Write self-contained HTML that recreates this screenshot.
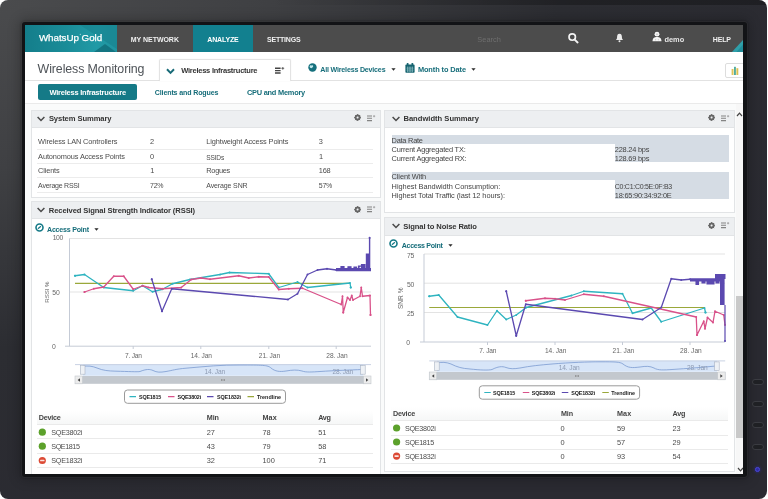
<!DOCTYPE html><html><head>
<meta charset="utf-8">
<title>Wireless Monitoring</title>
<style>
*{box-sizing:border-box;margin:0;padding:0}
html,body{width:768px;height:499px;overflow:hidden;background:#fff;font-family:"Liberation Sans",sans-serif}
#mon{position:absolute;left:0;top:0;width:767px;height:499px;border-radius:8px;
 background:radial-gradient(ellipse 900px 560px at 0% 0%,#4a4b4d 0%,#3f4043 30%,#2c2d32 62%,#2a2a31 100%);overflow:hidden;filter:blur(.4px)}
#bez{position:absolute;left:21.5px;top:21.5px;width:725.5px;height:455.5px;background:#121316;border-radius:3px;box-shadow:0 0 0 1px rgba(255,255,255,.06),0 0 2px 1px rgba(0,0,0,.35),0 0 12px 3px rgba(0,0,0,.22)}
#scr{position:absolute;left:25px;top:25px;width:718px;height:449px;background:#fff;overflow:hidden}
.abs{position:absolute}
.t{position:absolute;white-space:nowrap;line-height:1}
/* navbar */
#nav{position:absolute;left:0;top:0;width:718px;height:27px;background:#4c4c4c}
#logo{position:absolute;left:0;top:0;width:92px;height:27px;background:linear-gradient(90deg,#147e8b 0%,#1a8c98 45%,#219aa6 78%,#1f939f 100%)}
.nv{color:#fff;font-weight:bold;font-size:7.4px;top:10.5px;letter-spacing:.3px}
#an{position:absolute;left:168px;top:0;width:60px;height:27px;background:#12808f}
/* panels */
.pn{position:absolute;background:#fff;border:1px solid #e2e4e6}
.ph{position:absolute;left:0;top:0;right:0;height:17px;background:#edeff1;border-bottom:1px solid #e2e4e6}
.pt{font-weight:bold;font-size:8px;color:#333;top:4.5px}
.rw{font-size:7.6px;color:#4c4c4c}
.ln{position:absolute;height:1px;background:#ececec}
.teal{color:#166d7a;font-weight:bold;font-size:7.6px}
.hl{position:absolute;background:#d5dce4}
.bw{font-size:7.6px;color:#444}
.th{font-weight:bold;font-size:7.8px;color:#444}
.dot{position:absolute;width:8px;height:8px;border-radius:50%}
.lg{font-weight:bold;font-size:6.2px;color:#222}
.ax{font-size:6.8px;color:#666}
</style>
</head>
<body>
<div id="mon">
 <div class="abs" style="left:0;top:0;width:767px;height:5px;background:linear-gradient(90deg,rgba(0,0,0,0) 35%,rgba(0,0,0,.28) 75%)"></div>
 <div id="bez"></div>
 <!-- monitor buttons -->
 <div class="abs" style="left:752px;top:379px;width:12px;height:6px;border-radius:3px;background:#1f2024;border:1px solid #3a3b41"></div>
 <div class="abs" style="left:752px;top:401px;width:12px;height:6px;border-radius:3px;background:#1f2024;border:1px solid #3a3b41"></div>
 <div class="abs" style="left:752px;top:422px;width:12px;height:6px;border-radius:3px;background:#1f2024;border:1px solid #3a3b41"></div>
 <div class="abs" style="left:752px;top:444px;width:12px;height:6px;border-radius:3px;background:#1f2024;border:1px solid #3a3b41"></div>
 <div class="abs" style="left:754.8px;top:467.4px;width:4.8px;height:4.8px;border-radius:50%;background:#2e2ca4;border:1.3px solid #4a47d4;box-shadow:0 0 2.5px 0.5px rgba(50,46,170,.55)"></div>

 <div id="scr">
  <!-- NAVBAR -->
  <div id="nav">
   <div id="logo">
    <svg class="abs" style="left:0;top:0" width="92" height="27"><polygon points="55,0 92,0 92,24" fill="#15808c" opacity=".55"></polygon><polygon points="69,27 80,19 91,27" fill="#126f7b" opacity=".85"></polygon><circle cx="55.3" cy="9.2" r=".55" fill="#d9f0f2"></circle></svg>
    <div class="t" style="left: 13.9px; top: 8px; -webkit-text-stroke: 0.25px rgb(255, 255, 255); color: rgb(255, 255, 255); font-size: 9.8px; letter-spacing: -0.035px; width: auto; text-align: left;">WhatsUp Gold</div>
   </div>
   <div class="t nv" style="left: 105.8px; font-size: 7px; letter-spacing: -0.038px; width: auto; text-align: left; top: 11px; color: rgb(240, 240, 240);">MY NETWORK</div>
   <div id="an"></div>
   <div class="t nv" style="left: 182.3px; font-size: 7px; letter-spacing: -0.175px; width: auto; text-align: left; top: 11px;">ANALYZE</div>
   <div class="t nv" style="left: 242px; font-size: 7px; letter-spacing: -0.202px; width: auto; text-align: left; top: 11px; color: rgb(240, 240, 240);">SETTINGS</div>
   <div class="t" style="left: 452.3px; top: 11px; font-size: 7.4px; color: rgb(110, 110, 110); letter-spacing: 0.03px; width: auto; text-align: left;">Search</div>
   <svg class="abs" style="left:541.8px;top:6.8px" width="12.2" height="12.2" viewBox="0 0 14 14"><circle cx="6" cy="5.8" r="3.7" fill="none" stroke="#f2f2f2" stroke-width="1.9"></circle><path d="M8.8 8.8 L12.2 12" stroke="#f2f2f2" stroke-width="2.2" stroke-linecap="round"></path></svg>
   <svg class="abs" style="left:589.6px;top:8.4px" width="9" height="10.4" viewBox="0 0 10 11"><path d="M5 0.6 C2.8 0.6 2.3 2.6 2.3 4.4 C2.3 6 1.6 6.8 1 7.4 L9 7.4 C8.4 6.8 7.7 6 7.7 4.4 C7.7 2.6 7.2 0.6 5 0.6 Z" fill="#ececec"></path><circle cx="5" cy="8.8" r="1.1" fill="#ececec"></circle></svg>
   <svg class="abs" style="left:627.3px;top:6.4px" width="10" height="11.4" viewBox="0 0 11 12"><circle cx="5.5" cy="3.2" r="2.7" fill="#f4f4f4"></circle><path d="M0.6 11 C0.4 7.6 2.6 6.2 5.5 6.2 C8.4 6.2 10.6 7.6 10.4 11 Z" fill="#f4f4f4"></path><circle cx="5.5" cy="3.3" r=".7" fill="#aaa"></circle><circle cx="4" cy="9.3" r=".6" fill="#b5b5b5"></circle><circle cx="7" cy="9.3" r=".6" fill="#b5b5b5"></circle></svg>
   <div class="t nv" style="left: 639.5px; font-size: 7.4px; letter-spacing: -0.005px; width: auto; text-align: left; top: 11px; color: rgb(230, 230, 230);">demo</div>
   <div class="t nv" style="left: 687.8px; letter-spacing: -0.193px; font-size: 7px; width: auto; text-align: left; top: 11px; color: rgb(240, 240, 240);">HELP</div>
   <svg class="abs" style="left:706px;top:14.5px" width="12" height="12.5"><polygon points="12,0 12,12.5 0.5,12.5" fill="#2f9fa9"></polygon><polygon points="12,4.5 12,12.5 5,12.5" fill="#218d99"></polygon></svg>
  </div>

  <!-- SUBHEADER -->
  <div class="t" style="left: 12.6px; top: 38px; font-size: 12.4px; color: rgb(78, 83, 88); letter-spacing: -0.105px; width: auto; text-align: left;">Wireless Monitoring</div>
  <div class="ln" style="left:0;top:55px;width:718px;background:#e2e2e2"></div>
  <div class="abs" style="left:134px;top:34px;width:132px;height:22px;background:#fff;border:1px solid #e3e3e3;border-bottom:none;border-radius:2px 2px 0 0;box-shadow:0 0 1.5px rgba(0,0,0,.08)"></div>
  <svg class="abs" style="left:141px;top:43px" width="9" height="7" viewBox="0 0 9 7"><path d="M1 1.3 L4.5 4.9 L8 1.3" fill="none" stroke="#196b78" stroke-width="2"></path></svg>
  <div class="t" style="left: 156.2px; top: 42px; font-size: 7.5px; font-weight: bold; color: rgb(51, 51, 51); letter-spacing: -0.241px; width: auto; text-align: left;">Wireless Infrastructure</div>
  <svg class="abs" style="left:250px;top:42px" width="10" height="8" viewBox="0 0 10 8"><path d="M0 1.2 H5.6 M0 3.6 H5.6 M0 6 H5.6" stroke="#444" stroke-width="1.35"></path><path d="M6.4 1.3 H9.2 M7.8 0 V2.7" stroke="#444" stroke-width=".8"></path></svg>
  <svg class="abs" style="left:283px;top:38px" width="9" height="9" viewBox="0 0 9 9"><circle cx="4.5" cy="4.5" r="4.2" fill="#15707d"></circle><path d="M1.6 3.4 C1.8 2.2 2.9 1.9 3.4 2.7 C3.9 1.9 5.2 2.1 5.2 3.3 C5 4.4 3.9 4.9 3.3 5.3 C2.6 4.8 1.7 4.4 1.6 3.4Z" fill="#bfe6ea"></path></svg>
  <div class="t teal" style="left: 295.3px; top: 42px; letter-spacing: -0.193px; font-size: 7.1px; width: auto; text-align: left;">All Wireless Devices</div>
  <svg class="abs" style="left:365.5px;top:43px" width="6" height="4"><polygon points="0.4,0.2 4.6,0.2 2.5,2.8" fill="#2a2a2a"></polygon></svg>
  <svg class="abs" style="left:380px;top:38px" width="10" height="10" viewBox="0 0 10 10"><rect x=".4" y="1.6" width="9.2" height="8.2" rx=".8" fill="#15636f"></rect><rect x="1.8" y="0" width="1.7" height="2.8" rx=".6" fill="#15636f"></rect><rect x="6.5" y="0" width="1.7" height="2.8" rx=".6" fill="#15636f"></rect><path d="M2.6 3.6 V9.2 M4.2 3.6 V9.2 M5.8 3.6 V9.2 M7.4 3.6 V9.2" stroke="#cfe9ec" stroke-width=".55"></path><path d="M1.2 5.2 H8.8 M1.2 7.2 H8.8" stroke="#7fb9c0" stroke-width=".35"></path></svg>
  <div class="t teal" style="left: 392.9px; top: 41px; letter-spacing: -0.097px; font-size: 7.4px; width: auto; text-align: left;">Month to Date</div>
  <svg class="abs" style="left:445.5px;top:43px" width="6" height="4"><polygon points="0.4,0.2 4.6,0.2 2.5,2.8" fill="#2a2a2a"></polygon></svg>
  <div class="abs" style="left:700px;top:38px;width:20px;height:15px;border:1px solid #ddd;border-radius:2px;background:#fff"></div>
  <svg class="abs" style="left:706px;top:41px" width="9" height="9" viewBox="0 0 9 9"><rect x="0.6" y="3" width="1.9" height="6" fill="#e0c458"></rect><rect x="3" y="0.8" width="1.9" height="8.2" fill="#52ad9d"></rect><rect x="5.4" y="2.2" width="1.9" height="6.8" fill="#dcc050"></rect></svg>

  <!-- TABS ROW -->
  <div class="abs" style="left:13px;top:59px;width:99px;height:15.5px;background:#157a87;border-radius:2px"></div>
  <div class="t" style="left: 24.4px; top: 64px; font-size: 7.5px; font-weight: bold; color: rgb(255, 255, 255); letter-spacing: -0.224px; width: auto; text-align: left;">Wireless Infrastructure</div>
  <div class="t teal" style="left: 129.8px; top: 65px; letter-spacing: -0.151px; font-size: 7.1px; width: auto; text-align: left;">Clients and Rogues</div>
  <div class="t teal" style="left: 221.9px; top: 64px; letter-spacing: -0.222px; font-size: 7.4px; width: auto; text-align: left;">CPU and Memory</div>
  <div class="ln" style="left:0;top:78px;width:718px;background:#eaeaea"></div>
  <div class="abs" style="left:0;top:79px;width:718px;height:370px;background:#fafbfb"></div>

  <!-- right scrollbar -->
  <div class="abs" style="left:711px;top:79px;width:7px;height:370px;background:#f7f7f7"></div>
  <div class="abs" style="left:711px;top:271px;width:7px;height:142px;background:#c9c9c9"></div>
  <svg class="abs" style="left:711px;top:87px" width="7" height="5" viewBox="0 0 7 5"><path d="M1 4 L3.5 1.2 L6 4" fill="none" stroke="#444" stroke-width="1.2"></path></svg>
  <svg class="abs" style="left:711.5px;top:441.5px" width="7" height="5" viewBox="0 0 7 5"><path d="M1 1 L3.5 3.8 L6 1" fill="none" stroke="#444" stroke-width="1.2"></path></svg>

  <!-- PANEL 1: System Summary -->
  <div class="pn" style="left:6px;top:85px;width:350px;height:87.5px"><div class="ph"></div></div>
  <svg class="abs" style="left:12px;top:90.8px" width="8" height="6" viewBox="0 0 8 6"><path d="M.6 .9 L4 4.5 L7.4 .9" fill="none" stroke="#4a4a4a" stroke-width="1.5"></path></svg>
  <div class="t pt" style="left: 23.9px; top: 90px; font-size: 7.6px; letter-spacing: -0.082px; width: auto; text-align: left;">System Summary</div>
  <svg class="abs gear" style="left:329.3px;top:89.3px" width="7.2" height="7.2" viewBox="0 0 8 8"><circle cx="4" cy="4" r="2.4" fill="none" stroke="#666" stroke-width="1.9"></circle><path d="M4 0 V8 M0 4 H8 M1.2 1.2 L6.8 6.8 M6.8 1.2 L1.2 6.8" stroke="#666" stroke-width="1"></path><circle cx="4" cy="4" r="1.1" fill="#eceef0"></circle></svg>
  <svg class="abs" style="left:341.5px;top:90px" width="9" height="7" viewBox="0 0 9 7"><path d="M0 1 H5 M0 3.3 H5 M0 5.6 H5" stroke="#848484" stroke-width="1.1"></path><path d="M6 1.2 H8.2 M7.1 .1 V2.3" stroke="#848484" stroke-width=".6"></path></svg>

  <div class="t rw" style="left: 13.1px; top: 113px; font-size: 7.4px; letter-spacing: -0.14px; width: auto; text-align: left;">Wireless LAN Controllers</div><div class="t rw" style="left: 125px; top: 113px; font-size: 7.4px;">2</div>
  <div class="t rw" style="left: 181.3px; top: 113px; font-size: 7.4px; letter-spacing: -0.138px; width: auto; text-align: left;">Lightweight Access Points</div><div class="t rw" style="left: 293.8px; top: 113px; font-size: 7.4px;">3</div>
  <div class="ln" style="left:12px;top:123.5px;width:336px"></div>
  <div class="t rw" style="left: 13.1px; top: 128px; font-size: 7.4px; letter-spacing: -0.123px; width: auto; text-align: left;">Autonomous Access Points</div><div class="t rw" style="left: 125px; top: 128px; font-size: 7.4px;">0</div>
  <div class="t rw" style="left: 181.3px; top: 130px; font-size: 6.6px; letter-spacing: -0.198px; width: auto; text-align: left;">SSIDs</div><div class="t rw" style="left: 125.3px; top: 142px; font-size: 7.4px;">1</div>
  <div class="ln" style="left:12px;top:137.8px;width:336px"></div>
  <div class="t rw" style="left: 13.1px; top: 142px; font-size: 7.4px; letter-spacing: -0.171px; width: auto; text-align: left;">Clients</div><div class="t rw" style="left: 294px; top: 128px; font-size: 7.4px;">1</div>
  <div class="t rw" style="left: 181.3px; top: 142px; font-size: 7.4px; letter-spacing: -0.297px; width: auto; text-align: left;">Rogues</div><div class="t rw" style="left: 293.8px; top: 142px; font-size: 7.4px; letter-spacing: -0.281px; width: auto; text-align: left;">168</div>
  <div class="ln" style="left:12px;top:152.2px;width:336px"></div>
  <div class="t rw" style="left: 13.1px; top: 157px; font-size: 7px; letter-spacing: -0.236px; width: auto; text-align: left;">Average RSSI</div><div class="t rw" style="left: 125px; top: 157px; font-size: 7px; letter-spacing: -0.239px; width: auto; text-align: left;">72%</div>
  <div class="t rw" style="left: 181.3px; top: 157px; font-size: 7px; letter-spacing: -0.134px; width: auto; text-align: left;">Average SNR</div><div class="t rw" style="left: 293.8px; top: 157px; font-size: 7px; letter-spacing: -0.272px; width: auto; text-align: left;">57%</div>
  <div class="ln" style="left:12px;top:166.5px;width:336px"></div>

  <!-- PANEL 2: RSSI -->
  <div class="pn" style="left:6px;top:176px;width:350px;height:290px"><div class="ph"></div></div>
  <svg class="abs" style="left:12px;top:181.8px" width="8" height="6" viewBox="0 0 8 6"><path d="M.6 .9 L4 4.5 L7.4 .9" fill="none" stroke="#4a4a4a" stroke-width="1.5"></path></svg>
  <div class="t pt" style="left: 23.8px; top: 182px; font-size: 7.6px; letter-spacing: -0.108px; width: auto; text-align: left;">Received Signal Strength Indicator (RSSI)</div>
  <svg class="abs gear" style="left:329.3px;top:180.6px" width="7.2" height="7.2" viewBox="0 0 8 8"><circle cx="4" cy="4" r="2.4" fill="none" stroke="#666" stroke-width="1.9"></circle><path d="M4 0 V8 M0 4 H8 M1.2 1.2 L6.8 6.8 M6.8 1.2 L1.2 6.8" stroke="#666" stroke-width="1"></path><circle cx="4" cy="4" r="1.1" fill="#eceef0"></circle></svg>
  <svg class="abs" style="left:341.5px;top:181px" width="9" height="7" viewBox="0 0 9 7"><path d="M0 1 H5 M0 3.3 H5 M0 5.6 H5" stroke="#848484" stroke-width="1.1"></path><path d="M6 1.2 H8.2 M7.1 .1 V2.3" stroke="#848484" stroke-width=".6"></path></svg>
  <svg class="abs" style="left:10.3px;top:197.8px" width="9" height="9" viewBox="0 0 9 9"><circle cx="4.5" cy="4.5" r="3.5" fill="none" stroke="#157a87" stroke-width="1.6"></circle><path d="M2.9 5.8 L5.9 3.2" stroke="#157a87" stroke-width="1.2"></path></svg>
  <div class="t teal" style="left: 22px; top: 202px; letter-spacing: -0.23px; font-size: 7.1px; width: auto; text-align: left;">Access Point</div>
  <svg class="abs" style="left:68.5px;top:202.5px" width="6" height="4"><polygon points="0.4,0.2 4.6,0.2 2.5,2.8" fill="#2a2a2a"></polygon></svg>

  <!-- PANEL 3: Bandwidth -->
  <div class="pn" style="left:359px;top:85px;width:350.5px;height:103.3px"><div class="ph"></div></div>
  <svg class="abs" style="left:366.5px;top:90.5px" width="8" height="6" viewBox="0 0 8 6"><path d="M.6 .9 L4 4.5 L7.4 .9" fill="none" stroke="#4a4a4a" stroke-width="1.5"></path></svg>
  <div class="t pt" style="left: 378.4px; top: 90px; font-size: 7.6px; letter-spacing: 0.004px; width: auto; text-align: left;">Bandwidth Summary</div>
  <svg class="abs gear" style="left:683.3px;top:89.3px" width="7.2" height="7.2" viewBox="0 0 8 8"><circle cx="4" cy="4" r="2.4" fill="none" stroke="#666" stroke-width="1.9"></circle><path d="M4 0 V8 M0 4 H8 M1.2 1.2 L6.8 6.8 M6.8 1.2 L1.2 6.8" stroke="#666" stroke-width="1"></path><circle cx="4" cy="4" r="1.1" fill="#eceef0"></circle></svg>
  <svg class="abs" style="left:695.5px;top:90px" width="9" height="7" viewBox="0 0 9 7"><path d="M0 1 H5 M0 3.3 H5 M0 5.6 H5" stroke="#848484" stroke-width="1.1"></path><path d="M6 1.2 H8.2 M7.1 .1 V2.3" stroke="#848484" stroke-width=".6"></path></svg>
  <div class="hl" style="left:366.5px;top:110.4px;width:337px;height:8.2px"></div>
  <div class="hl" style="left:589.5px;top:110.4px;width:114px;height:27px"></div>
  <div class="hl" style="left:366.5px;top:147.1px;width:337px;height:8.2px"></div>
  <div class="hl" style="left:589.5px;top:147.1px;width:114px;height:27px"></div>
  <div class="t bw" style="left: 366.6px; top: 112px; font-size: 7.4px; letter-spacing: -0.242px; width: auto; text-align: left;">Data Rate</div>
  <div class="t bw" style="left: 366.6px; top: 121px; font-size: 7.4px; letter-spacing: -0.179px; width: auto; text-align: left;">Current Aggregated TX:</div><div class="t bw" style="left: 589.8px; top: 121px; font-size: 7.4px; letter-spacing: -0.218px; width: auto; text-align: left;">228.24 bps</div>
  <div class="t bw" style="left: 366.6px; top: 130px; font-size: 7.4px; letter-spacing: -0.181px; width: auto; text-align: left;">Current Aggregated RX:</div><div class="t bw" style="left: 589.8px; top: 130px; font-size: 7.4px; letter-spacing: -0.218px; width: auto; text-align: left;">128.69 bps</div>
  <div class="t bw" style="left: 366.6px; top: 148px; font-size: 7.4px; letter-spacing: -0.112px; width: auto; text-align: left;">Client With</div>
  <div class="t bw" style="left: 366.6px; top: 158px; font-size: 7.4px; letter-spacing: -0.023px; width: auto; text-align: left;">Highest Bandwidth Consumption:</div><div class="t bw" style="left: 589.8px; top: 158px; font-size: 7px; letter-spacing: -0.275px; width: auto; text-align: left;">C0:C1:C0:5E:0F:B3</div>
  <div class="t bw" style="left: 366.6px; top: 167px; font-size: 7.4px; letter-spacing: -0.071px; width: auto; text-align: left;">Highest Total Traffic (last 12 hours):</div><div class="t bw" style="left: 589.8px; top: 167px; font-size: 7.4px; letter-spacing: -0.219px; width: auto; text-align: left;">18:65:90:34:92:0E</div>

  <!-- PANEL 4: SNR -->
  <div class="pn" style="left:359px;top:191.8px;width:350.5px;height:255px"><div class="ph" style="height:18.4px"></div></div>
  <svg class="abs" style="left:366.5px;top:197.5px" width="8" height="6" viewBox="0 0 8 6"><path d="M.6 .9 L4 4.5 L7.4 .9" fill="none" stroke="#4a4a4a" stroke-width="1.5"></path></svg>
  <div class="t pt" style="left: 378.3px; top: 198px; font-size: 7.6px; letter-spacing: -0.117px; width: auto; text-align: left;">Signal to Noise Ratio</div>
  <svg class="abs gear" style="left:683.3px;top:196.6px" width="7.2" height="7.2" viewBox="0 0 8 8"><circle cx="4" cy="4" r="2.4" fill="none" stroke="#666" stroke-width="1.9"></circle><path d="M4 0 V8 M0 4 H8 M1.2 1.2 L6.8 6.8 M6.8 1.2 L1.2 6.8" stroke="#666" stroke-width="1"></path><circle cx="4" cy="4" r="1.1" fill="#eceef0"></circle></svg>
  <svg class="abs" style="left:695.5px;top:197px" width="9" height="7" viewBox="0 0 9 7"><path d="M0 1 H5 M0 3.3 H5 M0 5.6 H5" stroke="#848484" stroke-width="1.1"></path><path d="M6 1.2 H8.2 M7.1 .1 V2.3" stroke="#848484" stroke-width=".6"></path></svg>
  <svg class="abs" style="left:363.8px;top:213.8px" width="9" height="9" viewBox="0 0 9 9"><circle cx="4.5" cy="4.5" r="3.5" fill="none" stroke="#157a87" stroke-width="1.6"></circle><path d="M2.9 5.8 L5.9 3.2" stroke="#157a87" stroke-width="1.2"></path></svg>
  <div class="t teal" style="left: 376.8px; top: 218px; letter-spacing: -0.322px; font-size: 7.1px; width: auto; text-align: left;">Access Point</div>
  <svg class="abs" style="left:422.5px;top:218.5px" width="6" height="4"><polygon points="0.4,0.2 4.6,0.2 2.5,2.8" fill="#2a2a2a"></polygon></svg>

  <!-- CHARTS (absolute coordinates) -->
  <svg class="abs" style="left:0;top:0" width="718" height="449" viewBox="25 25 718 449" id="charts">
   <path d="M69.5 238.5 H371 M69.5 292 H371" stroke="#e3e3e3" stroke-width="1"></path>
   <path d="M69.5 238.5 V346.2 M65 346.2 H371" stroke="#c5cbd6" stroke-width="1"></path>
   <path d="M133.2 346 V349 M200.8 346 V349 M268.8 346 V349 M336.2 346 V349" stroke="#c5cbd6" stroke-width="1"></path>
   <polyline points="75,283.4 350,283.4" fill="none" stroke="#9aa83a" stroke-width="1.15" stroke-linejoin="round"></polyline>
   <polyline points="75,275.75 84.5,274.5 103.75,287.5 133.25,290.75 142.5,285.75 152.5,291.75 162.5,289.25 172.5,283.75 190,279.5 220,274.5 229.5,272.5 268.75,273.75 278.75,287.5 297.5,282 307.5,287.5 350,283 350.75,287.5" fill="none" stroke="#2fb4c0" stroke-width="1.3" stroke-linejoin="round"></polyline><circle cx="75" cy="275.75" r=".95" fill="#2fb4c0"></circle><circle cx="84.5" cy="274.5" r=".95" fill="#2fb4c0"></circle><circle cx="103.75" cy="287.5" r=".95" fill="#2fb4c0"></circle><circle cx="133.25" cy="290.75" r=".95" fill="#2fb4c0"></circle><circle cx="142.5" cy="285.75" r=".95" fill="#2fb4c0"></circle><circle cx="152.5" cy="291.75" r=".95" fill="#2fb4c0"></circle><circle cx="162.5" cy="289.25" r=".95" fill="#2fb4c0"></circle><circle cx="172.5" cy="283.75" r=".95" fill="#2fb4c0"></circle><circle cx="190" cy="279.5" r=".95" fill="#2fb4c0"></circle><circle cx="220" cy="274.5" r=".95" fill="#2fb4c0"></circle><circle cx="229.5" cy="272.5" r=".95" fill="#2fb4c0"></circle><circle cx="268.75" cy="273.75" r=".95" fill="#2fb4c0"></circle><circle cx="278.75" cy="287.5" r=".95" fill="#2fb4c0"></circle><circle cx="297.5" cy="282" r=".95" fill="#2fb4c0"></circle><circle cx="307.5" cy="287.5" r=".95" fill="#2fb4c0"></circle><circle cx="350" cy="283" r=".95" fill="#2fb4c0"></circle><circle cx="350.75" cy="287.5" r=".95" fill="#2fb4c0"></circle>
   <polyline points="84.5,292 93.75,288.75 103.75,287 113.75,276.25 123.75,276.25 133.25,289.25 142.5,285.75 148.75,287.5 162.5,288.75 181.25,287.5 191.25,279.5 201.25,278 210,279.25 238.75,275.75 248.75,278 258.75,276.75 268.75,277 278.75,289.5 288.75,288.75 302.5,288.25 341.25,304.5 342.5,296.25 343.25,312.5 347.5,297.5 350,300 351.75,295.5 353,300 360,296.25 361.25,287.5 362.5,296.25 370,295.5 370.5,315" fill="none" stroke="#d9528a" stroke-width="1.3" stroke-linejoin="round"></polyline><circle cx="84.5" cy="292" r=".95" fill="#d9528a"></circle><circle cx="93.75" cy="288.75" r=".95" fill="#d9528a"></circle><circle cx="103.75" cy="287" r=".95" fill="#d9528a"></circle><circle cx="113.75" cy="276.25" r=".95" fill="#d9528a"></circle><circle cx="123.75" cy="276.25" r=".95" fill="#d9528a"></circle><circle cx="133.25" cy="289.25" r=".95" fill="#d9528a"></circle><circle cx="142.5" cy="285.75" r=".95" fill="#d9528a"></circle><circle cx="148.75" cy="287.5" r=".95" fill="#d9528a"></circle><circle cx="162.5" cy="288.75" r=".95" fill="#d9528a"></circle><circle cx="181.25" cy="287.5" r=".95" fill="#d9528a"></circle><circle cx="191.25" cy="279.5" r=".95" fill="#d9528a"></circle><circle cx="201.25" cy="278" r=".95" fill="#d9528a"></circle><circle cx="210" cy="279.25" r=".95" fill="#d9528a"></circle><circle cx="238.75" cy="275.75" r=".95" fill="#d9528a"></circle><circle cx="248.75" cy="278" r=".95" fill="#d9528a"></circle><circle cx="258.75" cy="276.75" r=".95" fill="#d9528a"></circle><circle cx="268.75" cy="277" r=".95" fill="#d9528a"></circle><circle cx="278.75" cy="289.5" r=".95" fill="#d9528a"></circle><circle cx="288.75" cy="288.75" r=".95" fill="#d9528a"></circle><circle cx="302.5" cy="288.25" r=".95" fill="#d9528a"></circle><circle cx="341.25" cy="304.5" r=".95" fill="#d9528a"></circle><circle cx="342.5" cy="296.25" r=".95" fill="#d9528a"></circle><circle cx="343.25" cy="312.5" r=".95" fill="#d9528a"></circle><circle cx="347.5" cy="297.5" r=".95" fill="#d9528a"></circle><circle cx="350" cy="300" r=".95" fill="#d9528a"></circle><circle cx="351.75" cy="295.5" r=".95" fill="#d9528a"></circle><circle cx="353" cy="300" r=".95" fill="#d9528a"></circle><circle cx="360" cy="296.25" r=".95" fill="#d9528a"></circle><circle cx="361.25" cy="287.5" r=".95" fill="#d9528a"></circle><circle cx="362.5" cy="296.25" r=".95" fill="#d9528a"></circle><circle cx="370" cy="295.5" r=".95" fill="#d9528a"></circle><circle cx="370.5" cy="315" r=".95" fill="#d9528a"></circle>
   <polyline points="151.75,279.25 162,311.25 171.75,288.75 288,299.5 297.5,293.75 307.5,274.5 317.5,270 327,268.75 336.25,270" fill="none" stroke="#5b49b0" stroke-width="1.3" stroke-linejoin="round"></polyline><circle cx="151.75" cy="279.25" r=".95" fill="#5b49b0"></circle><circle cx="162" cy="311.25" r=".95" fill="#5b49b0"></circle><circle cx="171.75" cy="288.75" r=".95" fill="#5b49b0"></circle><circle cx="288" cy="299.5" r=".95" fill="#5b49b0"></circle><circle cx="297.5" cy="293.75" r=".95" fill="#5b49b0"></circle><circle cx="307.5" cy="274.5" r=".95" fill="#5b49b0"></circle><circle cx="317.5" cy="270" r=".95" fill="#5b49b0"></circle><circle cx="327" cy="268.75" r=".95" fill="#5b49b0"></circle><circle cx="336.25" cy="270" r=".95" fill="#5b49b0"></circle>
   <path d="M336 269.6 H371" stroke="#5b49b0" stroke-width="3.3"></path>
   <path d="M341 268.5 V266.5 H344 V268.5 M348 268.5 V266.8 H351 V268.5 M354 268.5 V267 H356.5 V268.5 M358.5 268.5 V266 H361 M361.5 268.5 V264.5 H365 V268.5" stroke="#5b49b0" stroke-width="1.2" fill="#5b49b0"></path>
   <rect x="365.8" y="253.5" width="3.2" height="16" fill="#5b49b0"></rect>
   <path d="M369.6 237.5 V270.5" stroke="#5b49b0" stroke-width="1.4"></path>
   <circle cx="75" cy="275.75" r="1.1" fill="#2fb4c0"></circle>
   <circle cx="350.75" cy="287.5" r="1.1" fill="#2fb4c0"></circle>
   <circle cx="84.5" cy="292" r="1" fill="#d9528a"></circle>
   <circle cx="370.5" cy="315" r="1" fill="#d9528a"></circle>
   <circle cx="343.25" cy="312.5" r="1" fill="#d9528a"></circle>
   <circle cx="151.75" cy="279.25" r="1" fill="#5b49b0"></circle>
   <circle cx="162" cy="311.25" r="1" fill="#5b49b0"></circle>
   <circle cx="369.6" cy="237.8" r="1" fill="#5b49b0"></circle>
   <rect x="82.8" y="364.5" width="280.2" height="11.3" fill="#d7e5f8"></rect>
   <path d="M75 364.6 H371" stroke="#c3cde0" stroke-width=".9"></path>
   <path d="M82 366.5 C88 365.5 92 366 97 368 C103 370.5 108 371 116 371.2 C128 371.5 138 372 140 371.5 C146 369 150 369 153 370.5 C157 372.5 160 372.5 166 371.5 C172 370.5 176 369 186 368.2 C205 366.5 222 364.8 240 365 C262 365 268 365 271 368 C275 371.5 280 372 286 371 C292 370 297 369.5 302 371 C306 372.5 312 372 320 371.5 C335 370.5 350 370 362 369.5" fill="none" stroke="#7b9bd1" stroke-width=".8"></path>
   <rect x="80.4" y="365.6" width="4.6" height="8.6" fill="#eef1f5" stroke="#aab3c2" stroke-width=".6"></rect><rect x="360.6" y="365.6" width="4.6" height="8.6" fill="#eef1f5" stroke="#aab3c2" stroke-width=".6"></rect>
   <rect x="75" y="376" width="296" height="7.8" fill="#c3c8ce"></rect>
   <rect x="75" y="376" width="7.5" height="7.8" fill="#ececec" stroke="#c3c8ce" stroke-width=".6"></rect><rect x="363.5" y="376" width="7.5" height="7.8" fill="#ececec" stroke="#c3c8ce" stroke-width=".6"></rect>
   <polygon points="80,378.2 80,381.8 77.6,380" fill="#444"></polygon><polygon points="366,378.2 366,381.8 368.4,380" fill="#444"></polygon>
   <path d="M221.5 379 V381 M223 379 V381 M224.5 379 V381" stroke="#777" stroke-width=".6"></path>
   <rect x="124.5" y="390" width="161" height="13.3" rx="3" fill="#fff" stroke="#9a9a9a" stroke-width="1"></rect>
   <path d="M129.5 396.7 H136.0" stroke="#2fb4c0" stroke-width="1.2"></path>
   <path d="M168 396.7 H174.5" stroke="#d9528a" stroke-width="1.2"></path>
   <path d="M207 396.7 H213.5" stroke="#5b49b0" stroke-width="1.2"></path>
   <path d="M247.5 396.7 H254.0" stroke="#9aa83a" stroke-width="1.2"></path>
   <path d="M424 254 H725 M424 283.2 H725 M424 312.5 H725" stroke="#e3e3e3" stroke-width="1"></path>
   <path d="M424 254 V342 M420 342 H725" stroke="#c5cbd6" stroke-width="1"></path>
   <path d="M487.5 342 V345 M555 342 V345 M622.5 342 V345 M690 342 V345" stroke="#c5cbd6" stroke-width="1"></path>
   <polyline points="429.25,307.5 705,307.5" fill="none" stroke="#9aa83a" stroke-width="1.15" stroke-linejoin="round"></polyline>
   <polyline points="429.25,296.25 438.75,295 457.5,317 487.5,325 497,310.75 506.25,319.5 516.25,315 526.25,307.5 571.5,295.5 583.75,291.25 622.5,293.75 632.5,313.25 651.25,308 661.25,321.75 704.5,308 705.5,312.5" fill="none" stroke="#2fb4c0" stroke-width="1.3" stroke-linejoin="round"></polyline><circle cx="429.25" cy="296.25" r=".95" fill="#2fb4c0"></circle><circle cx="438.75" cy="295" r=".95" fill="#2fb4c0"></circle><circle cx="457.5" cy="317" r=".95" fill="#2fb4c0"></circle><circle cx="487.5" cy="325" r=".95" fill="#2fb4c0"></circle><circle cx="497" cy="310.75" r=".95" fill="#2fb4c0"></circle><circle cx="506.25" cy="319.5" r=".95" fill="#2fb4c0"></circle><circle cx="516.25" cy="315" r=".95" fill="#2fb4c0"></circle><circle cx="526.25" cy="307.5" r=".95" fill="#2fb4c0"></circle><circle cx="571.5" cy="295.5" r=".95" fill="#2fb4c0"></circle><circle cx="583.75" cy="291.25" r=".95" fill="#2fb4c0"></circle><circle cx="622.5" cy="293.75" r=".95" fill="#2fb4c0"></circle><circle cx="632.5" cy="313.25" r=".95" fill="#2fb4c0"></circle><circle cx="651.25" cy="308" r=".95" fill="#2fb4c0"></circle><circle cx="661.25" cy="321.75" r=".95" fill="#2fb4c0"></circle><circle cx="704.5" cy="308" r=".95" fill="#2fb4c0"></circle><circle cx="705.5" cy="312.5" r=".95" fill="#2fb4c0"></circle>
   <polyline points="525.75,300.75 545,298.25 555,298.75 565,300 583.75,294.25 603.75,296.25 696.25,317 697,335 703.75,321.25 705,328.75 707.5,317.5 713,322.5 715,311.25 723.75,315 725,325" fill="none" stroke="#d9528a" stroke-width="1.3" stroke-linejoin="round"></polyline><circle cx="525.75" cy="300.75" r=".95" fill="#d9528a"></circle><circle cx="545" cy="298.25" r=".95" fill="#d9528a"></circle><circle cx="555" cy="298.75" r=".95" fill="#d9528a"></circle><circle cx="565" cy="300" r=".95" fill="#d9528a"></circle><circle cx="583.75" cy="294.25" r=".95" fill="#d9528a"></circle><circle cx="603.75" cy="296.25" r=".95" fill="#d9528a"></circle><circle cx="696.25" cy="317" r=".95" fill="#d9528a"></circle><circle cx="697" cy="335" r=".95" fill="#d9528a"></circle><circle cx="703.75" cy="321.25" r=".95" fill="#d9528a"></circle><circle cx="705" cy="328.75" r=".95" fill="#d9528a"></circle><circle cx="707.5" cy="317.5" r=".95" fill="#d9528a"></circle><circle cx="713" cy="322.5" r=".95" fill="#d9528a"></circle><circle cx="715" cy="311.25" r=".95" fill="#d9528a"></circle><circle cx="723.75" cy="315" r=".95" fill="#d9528a"></circle><circle cx="725" cy="325" r=".95" fill="#d9528a"></circle>
   <polyline points="506.25,291.25 516.25,335.75 525.75,304.25 642.5,319.5 661.25,307.5 671.25,278.75 681.25,280 690,279.25" fill="none" stroke="#5b49b0" stroke-width="1.3" stroke-linejoin="round"></polyline><circle cx="506.25" cy="291.25" r=".95" fill="#5b49b0"></circle><circle cx="516.25" cy="335.75" r=".95" fill="#5b49b0"></circle><circle cx="525.75" cy="304.25" r=".95" fill="#5b49b0"></circle><circle cx="642.5" cy="319.5" r=".95" fill="#5b49b0"></circle><circle cx="661.25" cy="307.5" r=".95" fill="#5b49b0"></circle><circle cx="671.25" cy="278.75" r=".95" fill="#5b49b0"></circle><circle cx="681.25" cy="280" r=".95" fill="#5b49b0"></circle><circle cx="690" cy="279.25" r=".95" fill="#5b49b0"></circle>
   <path d="M690 279.8 H722" stroke="#5b49b0" stroke-width="3.3"></path>
   <path d="M696 281 V284.5 H698.5 V281 M702 281 V283 H705 V281 M707 281 V284 H714 V281 M716 281 V283 H719 V281" stroke="#5b49b0" stroke-width="1.1" fill="#5b49b0"></path>
   <rect x="715" y="274" width="10.5" height="5" fill="#5b49b0"></rect>
   <rect x="720" y="274" width="4.6" height="31" fill="#5b49b0"></rect>
   <path d="M725 305 V341.5" stroke="#5b49b0" stroke-width="1.2"></path>
   <circle cx="429.25" cy="296.25" r="1.1" fill="#2fb4c0"></circle>
   <circle cx="705.5" cy="312.5" r="1.1" fill="#2fb4c0"></circle>
   <circle cx="525.75" cy="300.75" r="1" fill="#d9528a"></circle>
   <circle cx="697" cy="335" r="1" fill="#d9528a"></circle>
   <circle cx="506.25" cy="291.25" r="1" fill="#5b49b0"></circle>
   <circle cx="516.25" cy="335.75" r="1" fill="#5b49b0"></circle>
   <circle cx="725" cy="341" r="1" fill="#5b49b0"></circle>
   <rect x="437" y="360.8" width="280" height="11" fill="#d7e5f8"></rect>
   <path d="M429.25 360.9 H725.2" stroke="#c3cde0" stroke-width=".9"></path>
   <path d="M436 363 C442 362 446 362 451 364 C457 367 462 368.5 470 369 C480 370 488 370.5 492 369.5 C498 366.5 502 366 506 367.5 C510 369 514 369 520 368 C530 366 540 365 552 364 C570 362.5 588 361.8 600 361.8 C615 361.8 620 361.8 623 364 C628 368 632 368 640 367 C646 366 650 366 654 368 C658 370.5 664 370 672 369.5 C688 368.5 700 367.5 716 366" fill="none" stroke="#7b9bd1" stroke-width=".8"></path>
   <rect x="434.6" y="361.9" width="4.6" height="8.6" fill="#eef1f5" stroke="#aab3c2" stroke-width=".6"></rect><rect x="714.6" y="361.9" width="4.6" height="8.6" fill="#eef1f5" stroke="#aab3c2" stroke-width=".6"></rect>
   <rect x="429.25" y="372" width="296" height="7.8" fill="#c3c8ce"></rect>
   <rect x="429.25" y="372" width="7.5" height="7.8" fill="#ececec" stroke="#c3c8ce" stroke-width=".6"></rect><rect x="717.7" y="372" width="7.5" height="7.8" fill="#ececec" stroke="#c3c8ce" stroke-width=".6"></rect>
   <polygon points="434.2,374.2 434.2,377.8 431.8,376" fill="#444"></polygon><polygon points="720.3,374.2 720.3,377.8 722.7,376" fill="#444"></polygon>
   <path d="M575.5 375 V377 M577 375 V377 M578.5 375 V377" stroke="#777" stroke-width=".6"></path>
   <rect x="479.3" y="385.8" width="160.3" height="13.4" rx="3" fill="#fff" stroke="#9a9a9a" stroke-width="1"></rect>
   <path d="M484.3 392.5 H490.8" stroke="#2fb4c0" stroke-width="1.2"></path>
   <path d="M522.8 392.5 H529.3" stroke="#d9528a" stroke-width="1.2"></path>
   <path d="M561.8 392.5 H568.3" stroke="#5b49b0" stroke-width="1.2"></path>
   <path d="M602.3 392.5 H608.8" stroke="#9aa83a" stroke-width="1.2"></path>
     <circle cx="42.3" cy="432.2" r="3.6" fill="#5ca12b"></circle>
   <circle cx="42.3" cy="446.2" r="3.6" fill="#5ca12b"></circle>
   <circle cx="42.3" cy="460.5" r="3.6" fill="#dc4a35"></circle><rect x="40.1" y="459.7" width="4.4" height="1.6" rx=".6" fill="#fbe3de"></rect>
   <circle cx="396.6" cy="428.0" r="3.6" fill="#5ca12b"></circle>
   <circle cx="396.6" cy="442.0" r="3.6" fill="#5ca12b"></circle>
   <circle cx="396.6" cy="456.1" r="3.6" fill="#dc4a35"></circle><rect x="394.4" y="455.3" width="4.4" height="1.6" rx=".6" fill="#fbe3de"></rect>
  </svg>
  <!--TEXTS-->
  <div class="t ax" style="left: 27.7px; top: 210px; font-size: 6.8px; letter-spacing: -0.415px; width: auto; text-align: left;">100</div>
  <div class="t ax" style="left: 27.2px; top: 265px; font-size: 6.8px; letter-spacing: 0.119px; width: auto; text-align: left;">50</div>
  <div class="t ax" style="left: 27px; top: 319px; font-size: 6.8px; letter-spacing: 0.019px; width: auto; text-align: left;">0</div>
  <div class="t ax" style="left:6.8px;top:264.2px;width:30px;text-align:center;font-size:6.2px;letter-spacing:-.1px;transform:rotate(-90deg)">RSSI %</div>
  <div class="t ax" style="left: 100px; width: auto; text-align: left; top: 328px; font-size: 6.6px; letter-spacing: -0.195px;">7. Jan</div>
  <div class="t ax" style="left: 165.8px; width: auto; text-align: left; top: 328px; font-size: 6.6px; letter-spacing: -0.092px;">14. Jan</div>
  <div class="t ax" style="left: 233.8px; width: auto; text-align: left; top: 328px; font-size: 6.6px; letter-spacing: -0.063px;">21. Jan</div>
  <div class="t ax" style="left: 301.3px; width: auto; text-align: left; top: 328px; font-size: 6.6px; letter-spacing: -0.063px;">28. Jan</div>
  <div class="t ax" style="left: 179.5px; top: 344px; color: rgb(142, 155, 179); font-size: 6.6px; letter-spacing: -0.163px; width: auto; text-align: left;">14. Jan</div>
  <div class="t ax" style="left: 307.5px; top: 344px; color: rgb(142, 155, 179); font-size: 6.6px; letter-spacing: -0.163px; width: auto; text-align: left;">28. Jan</div>
  <div class="t ax" style="left: 382px; top: 228px; font-size: 6.8px; letter-spacing: -0.381px; width: auto; text-align: left;">75</div>
  <div class="t ax" style="left: 382px; top: 257px; font-size: 6.8px; letter-spacing: -0.381px; width: auto; text-align: left;">50</div>
  <div class="t ax" style="left: 382px; top: 286px; font-size: 6.8px; letter-spacing: -0.381px; width: auto; text-align: left;">25</div>
  <div class="t ax" style="left: 381.2px; top: 315px; font-size: 6.8px; letter-spacing: 0.019px; width: auto; text-align: left;">0</div>
  <div class="t ax" style="left:361.2px;top:269.8px;width:30px;text-align:center;font-size:6.6px;transform:rotate(-90deg)">SNR %</div>
  <div class="t ax" style="left: 454.3px; width: auto; text-align: left; top: 323px; font-size: 6.6px; letter-spacing: -0.161px;">7. Jan</div>
  <div class="t ax" style="left: 520px; width: auto; text-align: left; top: 323px; font-size: 6.6px; letter-spacing: -0.049px;">14. Jan</div>
  <div class="t ax" style="left: 587.5px; width: auto; text-align: left; top: 323px; font-size: 6.6px; letter-spacing: 0.023px;">21. Jan</div>
  <div class="t ax" style="left: 655px; width: auto; text-align: left; top: 323px; font-size: 6.6px; letter-spacing: 0.023px;">28. Jan</div>
  <div class="t ax" style="left: 533.8px; top: 340px; color: rgb(142, 155, 179); font-size: 6.6px; letter-spacing: -0.134px; width: auto; text-align: left;">14. Jan</div>
  <div class="t ax" style="left: 662px; top: 340px; color: rgb(142, 155, 179); font-size: 6.6px; letter-spacing: -0.163px; width: auto; text-align: left;">28. Jan</div>
  <div class="t lg" style="left: 114px; top: 370px; font-size: 5.4px; letter-spacing: -0.199px; width: auto; text-align: left;">SQE1815</div>
  <div class="t lg" style="left: 152.5px; top: 370px; font-size: 5.4px; letter-spacing: -0.172px; width: auto; text-align: left;">SQE3802i</div>
  <div class="t lg" style="left: 192px; top: 370px; font-size: 5.4px; letter-spacing: -0.109px; width: auto; text-align: left;">SQE1832i</div>
  <div class="t lg" style="left: 232px; top: 370px; font-size: 5.4px; letter-spacing: 0.003px; width: auto; text-align: left;">Trendline</div>
  <div class="t lg" style="left: 468px; top: 366px; font-size: 5.4px; letter-spacing: -0.199px; width: auto; text-align: left;">SQE1815</div>
  <div class="t lg" style="left: 506.8px; top: 366px; font-size: 5.4px; letter-spacing: -0.209px; width: auto; text-align: left;">SQE3802i</div>
  <div class="t lg" style="left: 546.3px; top: 366px; font-size: 5.4px; letter-spacing: -0.147px; width: auto; text-align: left;">SQE1832i</div>
  <div class="t lg" style="left: 586.3px; top: 366px; font-size: 5.4px; letter-spacing: -0.03px; width: auto; text-align: left;">Trendline</div>
  <div class="abs" style="left:11.75px;top:386.0px;width:336.25px;height:13px;background:linear-gradient(#fff,#f6f7f7)"></div>
  <div class="t th" style="left: 13.8px; top: 389px; font-size: 7.2px; letter-spacing: -0.248px; width: auto; text-align: left;">Device</div>
  <div class="t th" style="left: 181.8px; top: 389px; font-size: 7.2px; letter-spacing: -0.125px; width: auto; text-align: left;">Min</div>
  <div class="t th" style="left: 237.5px; top: 389px; font-size: 7.2px; letter-spacing: 0.105px; width: auto; text-align: left;">Max</div>
  <div class="t th" style="left: 293.3px; top: 389px; font-size: 7.2px; letter-spacing: -0.371px; width: auto; text-align: left;">Avg</div>
  <div class="ln" style="left:11.75px;top:399.0px;width:336.25px;background:#eaeaea"></div>
  <div class="ln" style="left:11.75px;top:413.25px;width:336.25px;background:#eaeaea"></div>
  <div class="ln" style="left:11.75px;top:427.5px;width:336.25px;background:#eaeaea"></div>
  <div class="ln" style="left:11.75px;top:441.5px;width:336.25px;background:#eaeaea"></div>
  <div class="t rw" style="left: 26.3px; top: 404px; font-size: 7.2px; letter-spacing: -0.258px; width: auto; text-align: left;">SQE3802i</div>
  <div class="t rw" style="left: 181.75px; top: 404px; font-size: 7.4px;">27</div>
  <div class="t rw" style="left: 237.5px; top: 404px; font-size: 7.4px;">78</div>
  <div class="t rw" style="left: 293.25px; top: 404px; font-size: 7.4px;">51</div>
  <div class="t rw" style="left: 26.3px; top: 418px; font-size: 7.2px; letter-spacing: -0.425px; width: auto; text-align: left;">SQE1815</div>
  <div class="t rw" style="left: 181.75px; top: 418px; font-size: 7.4px;">43</div>
  <div class="t rw" style="left: 237.5px; top: 418px; font-size: 7.4px;">79</div>
  <div class="t rw" style="left: 293.25px; top: 418px; font-size: 7.4px;">58</div>
  <div class="t rw" style="left: 26.3px; top: 432px; font-size: 7.2px; letter-spacing: -0.258px; width: auto; text-align: left;">SQE1832i</div>
  <div class="t rw" style="left: 181.75px; top: 432px; font-size: 7.4px;">32</div>
  <div class="t rw" style="left: 237.5px; top: 432px; font-size: 7.4px;">100</div>
  <div class="t rw" style="left: 293.25px; top: 432px; font-size: 7.4px;">71</div>
  <div class="abs" style="left:366px;top:382.25px;width:336.5px;height:13px;background:linear-gradient(#fff,#f6f7f7)"></div>
  <div class="t th" style="left: 368px; top: 385px; font-size: 7.2px; letter-spacing: -0.198px; width: auto; text-align: left;">Device</div>
  <div class="t th" style="left: 536px; top: 385px; font-size: 7.2px; letter-spacing: -0.125px; width: auto; text-align: left;">Min</div>
  <div class="t th" style="left: 592px; top: 385px; font-size: 7.2px; letter-spacing: 0.105px; width: auto; text-align: left;">Max</div>
  <div class="t th" style="left: 647.5px; top: 385px; font-size: 7.2px; letter-spacing: -0.271px; width: auto; text-align: left;">Avg</div>
  <div class="ln" style="left:366px;top:395.0px;width:336.5px;background:#eaeaea"></div>
  <div class="ln" style="left:366px;top:409.5px;width:336.5px;background:#eaeaea"></div>
  <div class="ln" style="left:366px;top:423.5px;width:336.5px;background:#eaeaea"></div>
  <div class="ln" style="left:366px;top:437.5px;width:336.5px;background:#eaeaea"></div>
  <div class="t rw" style="left: 380px; top: 400px; font-size: 7.2px; letter-spacing: -0.283px; width: auto; text-align: left;">SQE3802i</div>
  <div class="t rw" style="left: 535.5px; top: 400px; font-size: 7.4px;">0</div>
  <div class="t rw" style="left: 592px; top: 400px; font-size: 7.4px;">59</div>
  <div class="t rw" style="left: 647.5px; top: 400px; font-size: 7.4px;">23</div>
  <div class="t rw" style="left: 380px; top: 414px; font-size: 7.2px; letter-spacing: -0.339px; width: auto; text-align: left;">SQE1815</div>
  <div class="t rw" style="left: 535.5px; top: 414px; font-size: 7.4px;">0</div>
  <div class="t rw" style="left: 592px; top: 414px; font-size: 7.4px;">57</div>
  <div class="t rw" style="left: 647.5px; top: 414px; font-size: 7.4px;">29</div>
  <div class="t rw" style="left: 380px; top: 428px; font-size: 7.2px; letter-spacing: -0.283px; width: auto; text-align: left;">SQE1832i</div>
  <div class="t rw" style="left: 535.5px; top: 428px; font-size: 7.4px;">0</div>
  <div class="t rw" style="left: 592px; top: 428px; font-size: 7.4px;">93</div>
  <div class="t rw" style="left: 647.5px; top: 428px; font-size: 7.4px;">54</div>
 </div>
</div>


</body></html>
